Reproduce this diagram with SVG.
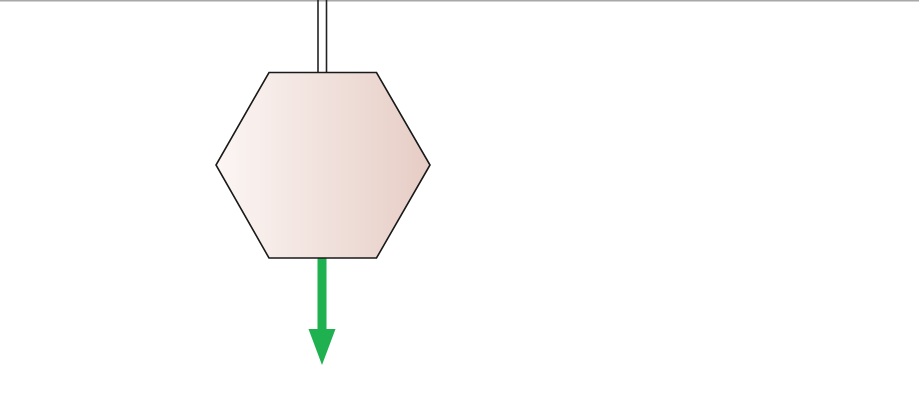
<svg xmlns="http://www.w3.org/2000/svg" width="919" height="408" viewBox="0 0 919 408">
<defs>
<linearGradient id="hexFill" x1="0" y1="0" x2="1" y2="0">
<stop offset="0" stop-color="#fcf6f4"/>
<stop offset="1" stop-color="#e6cdc5"/>
</linearGradient>
<style>
.edge{stroke:#222;stroke-width:1.6;fill:none}
.hex{fill:url(#hexFill);stroke:#1a1a1a;stroke-width:1.6;stroke-linejoin:miter}
.green{fill:#1fb14f}
</style>
</defs>
<rect width="919" height="408" fill="#fff"/>
<line x1="0" y1="0.8" x2="919" y2="0.8" stroke="#a8a8a8" stroke-width="1.6"/>
<g id="connectors">
<line class="edge" x1="318" y1="0" x2="318" y2="72"/>
<line class="edge" x1="326.5" y1="0" x2="326.5" y2="72"/>
<path class="green" d="M317.5,258 L326.5,258 L326.5,329 L335.5,329 L322,365 L308.5,329 L317.5,329 Z"/>
</g>
<g id="hexagon">
<polygon class="hex" points="269,72.5 376.5,72.5 430,165 376.5,258 269,258 216,165"/>
</g>
</svg>
